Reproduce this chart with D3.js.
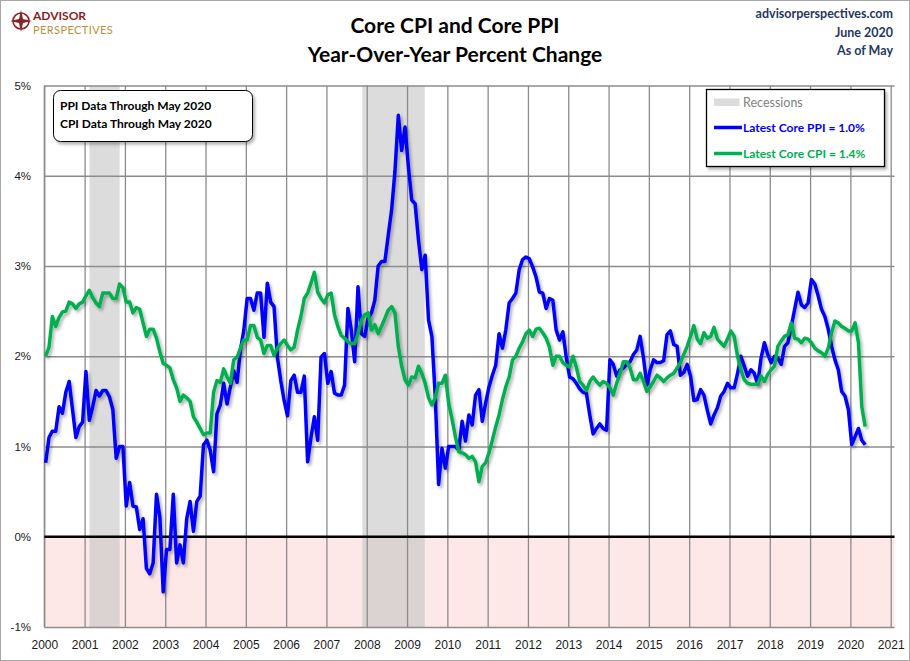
<!DOCTYPE html>
<html>
<head>
<meta charset="utf-8">
<script src="https://cdn.jsdelivr.net/npm/d3@7"></script>
<style>
  body { margin: 0; background: #fff; }
  svg { display: block; font-family: Lato, "Open Sans", sans-serif; }
</style>
</head>
<body>
<svg id="chart" width="910" height="661"></svg>
<script>
// Data vars (monthly, Jan 2000 - May 2020, YoY %)
const startYear = 2000;

const ppi = [
  0.82, 1.1, 1.17, 1.17, 1.44, 1.37, 1.6, 1.72, 1.41, 1.1, 1.22, 1.27,      // 2000
  1.83, 1.29, 1.44, 1.62, 1.56, 1.62, 1.62, 1.55, 1.41, 0.87, 1.0, 1.0,     // 2001
  0.34, 0.6, 0.34, 0.33, 0.08, 0.2, -0.35, -0.41, -0.29, 0.47, 0.22, -0.61, // 2002
  -0.14, -0.14, 0.47, -0.29, -0.09, -0.29, 0.2, 0.39, 0.06, 0.39, 0.45, 1.02, // 2003
  1.07, 0.96, 0.72, 1.36, 1.46, 1.7, 1.47, 1.66, 1.84, 1.71, 2.07, 2.29,    // 2004
  2.64, 2.64, 2.51, 2.7, 2.7, 2.21, 2.81, 2.6, 2.55, 1.99, 1.73, 1.51,      // 2005
  1.34, 1.73, 1.79, 1.6, 1.6, 1.78, 0.83, 1.1, 1.33, 1.07, 1.99, 2.03,      // 2006
  1.7, 1.83, 1.59, 1.57, 1.57, 1.68, 2.53, 2.29, 1.94, 2.77, 2.25, 2.22,    // 2007
  2.42, 2.48, 2.62, 3.0, 3.05, 3.05, 3.34, 3.62, 4.05, 4.67, 4.28, 4.54,    // 2008
  4.1, 3.73, 3.69, 3.29, 2.96, 3.12, 2.4, 2.22, 1.55, 0.58, 0.98, 0.76,     // 2009
  1.0, 1.0, 1.0, 0.96, 1.28, 1.06, 1.35, 1.24, 1.57, 1.63, 1.28, 1.48,      // 2010
  1.66, 1.79, 1.9, 2.25, 2.09, 2.29, 2.59, 2.64, 2.7, 2.96, 3.07, 3.1,      // 2011
  3.08, 2.99, 2.88, 2.71, 2.7, 2.53, 2.64, 2.62, 2.29, 2.18, 2.27, 1.99,    // 2012
  1.77, 1.75, 1.7, 1.64, 1.6, 1.59, 1.35, 1.14, 1.2, 1.25, 1.2, 1.18,       // 2013
  1.96, 1.91, 1.78, 1.85, 1.87, 1.91, 1.94, 2.02, 2.07, 2.22, 1.98, 1.68,   // 2014
  1.85, 1.96, 1.93, 1.93, 1.95, 2.24, 2.28, 2.13, 2.11, 1.79, 1.82, 1.91,   // 2015
  1.78, 1.51, 1.52, 1.63, 1.57, 1.4, 1.25, 1.35, 1.43, 1.56, 1.61, 1.7,     // 2016
  1.65, 1.65, 1.81, 2.0, 1.89, 1.78, 1.85, 1.81, 1.69, 1.98, 2.15, 2.02,    // 2017
  1.93, 2.0, 1.98, 1.91, 2.11, 2.15, 2.33, 2.52, 2.71, 2.57, 2.54, 2.59,    // 2018
  2.85, 2.8, 2.67, 2.52, 2.44, 2.3, 2.11, 1.96, 1.85, 1.61, 1.56, 1.41,     // 2019
  1.02, 1.11, 1.2, 1.07, 1.02                                                // 2020
];

const cpi = [
  2.0, 2.1, 2.44, 2.33, 2.43, 2.49, 2.5, 2.6, 2.58, 2.53, 2.58, 2.6,        // 2000
  2.67, 2.73, 2.65, 2.59, 2.55, 2.7, 2.7, 2.7, 2.64, 2.64, 2.8, 2.76,       // 2001
  2.6, 2.6, 2.48, 2.54, 2.52, 2.37, 2.22, 2.3, 2.3, 2.2, 2.05, 1.92,        // 2002
  1.9, 1.87, 1.74, 1.65, 1.5, 1.57, 1.54, 1.5, 1.33, 1.27, 1.2, 1.13,       // 2003
  1.15, 1.15, 1.6, 1.73, 1.71, 1.86, 1.77, 1.7, 1.96, 1.99, 2.09, 2.18,     // 2004
  2.18, 2.34, 2.34, 2.21, 2.18, 2.03, 2.12, 2.12, 2.01, 2.09, 2.14, 2.18,   // 2005
  2.12, 2.07, 2.1, 2.29, 2.44, 2.64, 2.7, 2.81, 2.93, 2.71, 2.64, 2.59,     // 2006
  2.68, 2.7, 2.46, 2.33, 2.23, 2.2, 2.16, 2.14, 2.14, 2.25, 2.4, 2.46,      // 2007
  2.48, 2.29, 2.35, 2.25, 2.33, 2.42, 2.51, 2.55, 2.48, 2.11, 1.89, 1.74,   // 2008
  1.68, 1.77, 1.76, 1.89, 1.81, 1.7, 1.54, 1.46, 1.54, 1.7, 1.7, 1.79,      // 2009
  1.48, 1.3, 1.11, 0.94, 0.93, 0.91, 0.87, 0.89, 0.83, 0.61, 0.78, 0.82,    // 2010
  0.93, 1.07, 1.22, 1.35, 1.52, 1.66, 1.77, 1.96, 2.0, 2.09, 2.16, 2.25,    // 2011
  2.29, 2.22, 2.3, 2.31, 2.26, 2.2, 2.1, 1.9, 2.0, 2.0, 1.93, 1.9,          // 2012
  1.88, 2.0, 1.88, 1.72, 1.68, 1.62, 1.72, 1.77, 1.72, 1.68, 1.72, 1.7,     // 2013
  1.65, 1.57, 1.7, 1.81, 1.94, 1.94, 1.87, 1.74, 1.74, 1.81, 1.72, 1.61,    // 2014
  1.66, 1.72, 1.79, 1.76, 1.72, 1.76, 1.79, 1.81, 1.87, 1.93, 2.02, 2.11,   // 2015
  2.22, 2.34, 2.19, 2.14, 2.26, 2.2, 2.22, 2.32, 2.19, 2.15, 2.11, 2.19,    // 2016
  2.28, 2.22, 2.0, 1.85, 1.74, 1.7, 1.69, 1.69, 1.69, 1.78, 1.72, 1.8,      // 2017
  1.85, 1.89, 2.11, 2.17, 2.22, 2.24, 2.37, 2.2, 2.19, 2.15, 2.2, 2.19,     // 2018
  2.15, 2.09, 2.06, 2.04, 2.0, 2.09, 2.26, 2.39, 2.37, 2.33, 2.31, 2.28,    // 2019
  2.28, 2.37, 2.15, 1.44, 1.22                                               // 2020
];

const recessions = [[2001.12, 2001.87], [2007.89, 2009.44]];
const yearTicks = d3.range(2000, 2022);
const pctTicks = [-1, 0, 1, 2, 3, 4, 5];

const titleLines = ["Core CPI and Core PPI", "Year-Over-Year Percent Change"];
const siteLines = ["advisorperspectives.com", "June 2020", "As of May"];
const noteLines = ["PPI Data Through May 2020", "CPI Data Through May 2020"];
const legendItems = [
  { label: "Latest Core PPI = 1.0%", color: "#0000ff" },
  { label: "Latest Core CPI = 1.4%", color: "#00b050" }
];

// Layout
const plot = { left: 44.3, right: 894.5, top: 85.5, bottom: 627 };
const svg = d3.select("#chart");

const defs = svg.append("defs");
defs.append("filter").attr("id", "shadow")
    .attr("x", "-10%").attr("y", "-10%").attr("width", "130%").attr("height", "130%")
  .append("feDropShadow")
    .attr("dx", 2).attr("dy", 2.5).attr("stdDeviation", 1.4)
    .attr("flood-color", "#000").attr("flood-opacity", 0.3);

// Scales
const xScale = d3.scaleLinear().domain([2000, 2021]).range([plot.left, 890.7]);
const yScale = d3.scaleLinear().domain([-1, 5]).range([plot.bottom, plot.top]);

// outer border
svg.append("rect")
    .attr("x", 0.5).attr("y", 0.5).attr("width", 909).attr("height", 660)
    .attr("fill", "#fff").attr("stroke", "#a6a6a6");

// negative zone
svg.append("rect")
    .attr("x", plot.left).attr("y", yScale(0))
    .attr("width", plot.right - plot.left).attr("height", yScale(-1) - yScale(0))
    .attr("fill", "#fde7e7");

// recession bands
svg.selectAll(".recession")
    .data(recessions)
    .enter().append("rect")
    .attr("class", "recession")
    .attr("x", d => xScale(d[0]))
    .attr("width", d => xScale(d[1]) - xScale(d[0]))
    .attr("y", plot.top)
    .attr("height", plot.bottom - plot.top)
    .attr("fill", "#c4c4c4").attr("opacity", 0.6);

// Axes (gridlines come from the tick lines)
const xAxis = svg.append("g")
    .attr("transform", `translate(0,${plot.bottom})`)
    .call(d3.axisBottom(xScale)
        .tickValues(yearTicks)
        .tickFormat(d3.format("d"))
        .tickSize(-(plot.bottom - plot.top))
        .tickPadding(13.5));

const yAxis = svg.append("g")
    .attr("transform", `translate(${plot.left},0)`)
    .call(d3.axisLeft(yScale)
        .tickValues(pctTicks)
        .tickFormat(d => d + "%")
        .tickSize(-(plot.right - plot.left))
        .tickPadding(13.3));

[xAxis, yAxis].forEach(ax => {
    ax.select(".domain").remove();
    ax.selectAll(".tick line").attr("stroke", "#8c8c8c").attr("stroke-width", 1.3);
    ax.selectAll(".tick text").attr("fill", "#1a1a1a").attr("font-size", 12);
});
yAxis.selectAll(".tick text").attr("font-size", 11.5);

// left axis line
svg.append("line")
    .attr("x1", plot.left).attr("x2", plot.left)
    .attr("y1", plot.top).attr("y2", plot.bottom)
    .attr("stroke", "#8c8c8c").attr("stroke-width", 1.3);

// zero line
svg.append("line")
    .attr("x1", plot.left).attr("x2", plot.right)
    .attr("y1", yScale(0)).attr("y2", yScale(0))
    .attr("stroke", "#000").attr("stroke-width", 2.6);

// Series lines
const lineGenerator = d3.line()
    .x((d, i) => xScale(startYear + (i + 0.4) / 12))
    .y(d => yScale(d));

[{ data: ppi, color: "#0000ff" }, { data: cpi, color: "#00b050" }].forEach(s => {
    svg.append("path")
        .attr("d", lineGenerator(s.data))
        .attr("fill", "none")
        .attr("stroke", s.color)
        .attr("stroke-width", 3.5)
        .attr("stroke-linejoin", "round")
        .attr("filter", "url(#shadow)");
});

// Title
svg.selectAll(".title")
    .data(titleLines)
    .enter().append("text")
    .attr("x", 455).attr("y", (d, i) => 33 + i * 29)
    .attr("text-anchor", "middle")
    .attr("font-size", 21).attr("font-weight", "bold")
    .attr("fill", "#000")
    .text(d => d);

// Top-right notes
svg.selectAll(".site")
    .data(siteLines)
    .enter().append("text")
    .attr("x", 893).attr("y", (d, i) => 18 + i * 18.5)
    .attr("text-anchor", "end")
    .attr("font-size", 12.5).attr("font-weight", "bold")
    .attr("fill", "#1f3864")
    .text(d => d);

// Logo
const logo = svg.append("g");
logo.append("circle").attr("cx", 21).attr("cy", 21).attr("r", 8)
    .attr("fill", "none").attr("stroke", "#8b2323").attr("stroke-width", 1.6);
logo.append("path")
    .attr("d", "M21,10 L23,19 L32,21 L23,23 L21,32 L19,23 L10,21 L19,19 Z")
    .attr("fill", "#8b2323");
logo.append("text").attr("x", 33).attr("y", 19.5)
    .attr("font-size", 12).attr("font-weight", "bold").attr("fill", "#8b1c1c")
    .text("ADVISOR");
logo.append("text").attr("x", 33).attr("y", 33.5)
    .attr("font-size", 11).attr("fill", "#b8923a")
    .attr("letter-spacing", 0.4)
    .text("PERSPECTIVES");

// Note box
svg.append("rect")
    .attr("x", 53.5).attr("y", 90.5).attr("width", 199).attr("height", 51)
    .attr("rx", 7)
    .attr("fill", "#fff").attr("stroke", "#000").attr("stroke-width", 1)
    .attr("filter", "url(#shadow)");
svg.selectAll(".note")
    .data(noteLines)
    .enter().append("text")
    .attr("x", 60).attr("y", (d, i) => 110 + i * 18)
    .attr("font-size", 12).attr("font-weight", "bold")
    .attr("fill", "#000")
    .text(d => d);

// Legend
const legend = svg.append("g");
legend.append("rect")
    .attr("x", 706.5).attr("y", 89.5).attr("width", 178).attr("height", 77)
    .attr("fill", "#fff").attr("stroke", "#000").attr("stroke-width", 1.3)
    .attr("filter", "url(#shadow)");
legend.append("rect")
    .attr("x", 714).attr("y", 98.5).attr("width", 25.5).attr("height", 7.5)
    .attr("fill", "#dcdcdc");
legend.append("text")
    .attr("x", 743).attr("y", 106.5)
    .attr("font-size", 12.5).attr("fill", "#7f7f7f")
    .text("Recessions");
legend.selectAll(".item")
    .data(legendItems)
    .enter().append("g")
    .each(function(d, i) {
        const g = d3.select(this);
        const yy = 127.5 + i * 26;
        g.append("line")
            .attr("x1", 714).attr("x2", 742)
            .attr("y1", yy).attr("y2", yy)
            .attr("stroke", d.color).attr("stroke-width", 3.5);
        g.append("text")
            .attr("x", 743).attr("y", yy + 4.3)
            .attr("font-size", 12).attr("font-weight", "bold")
            .attr("fill", d.color)
            .text(d.label);
    });
</script>
</body>
</html>
